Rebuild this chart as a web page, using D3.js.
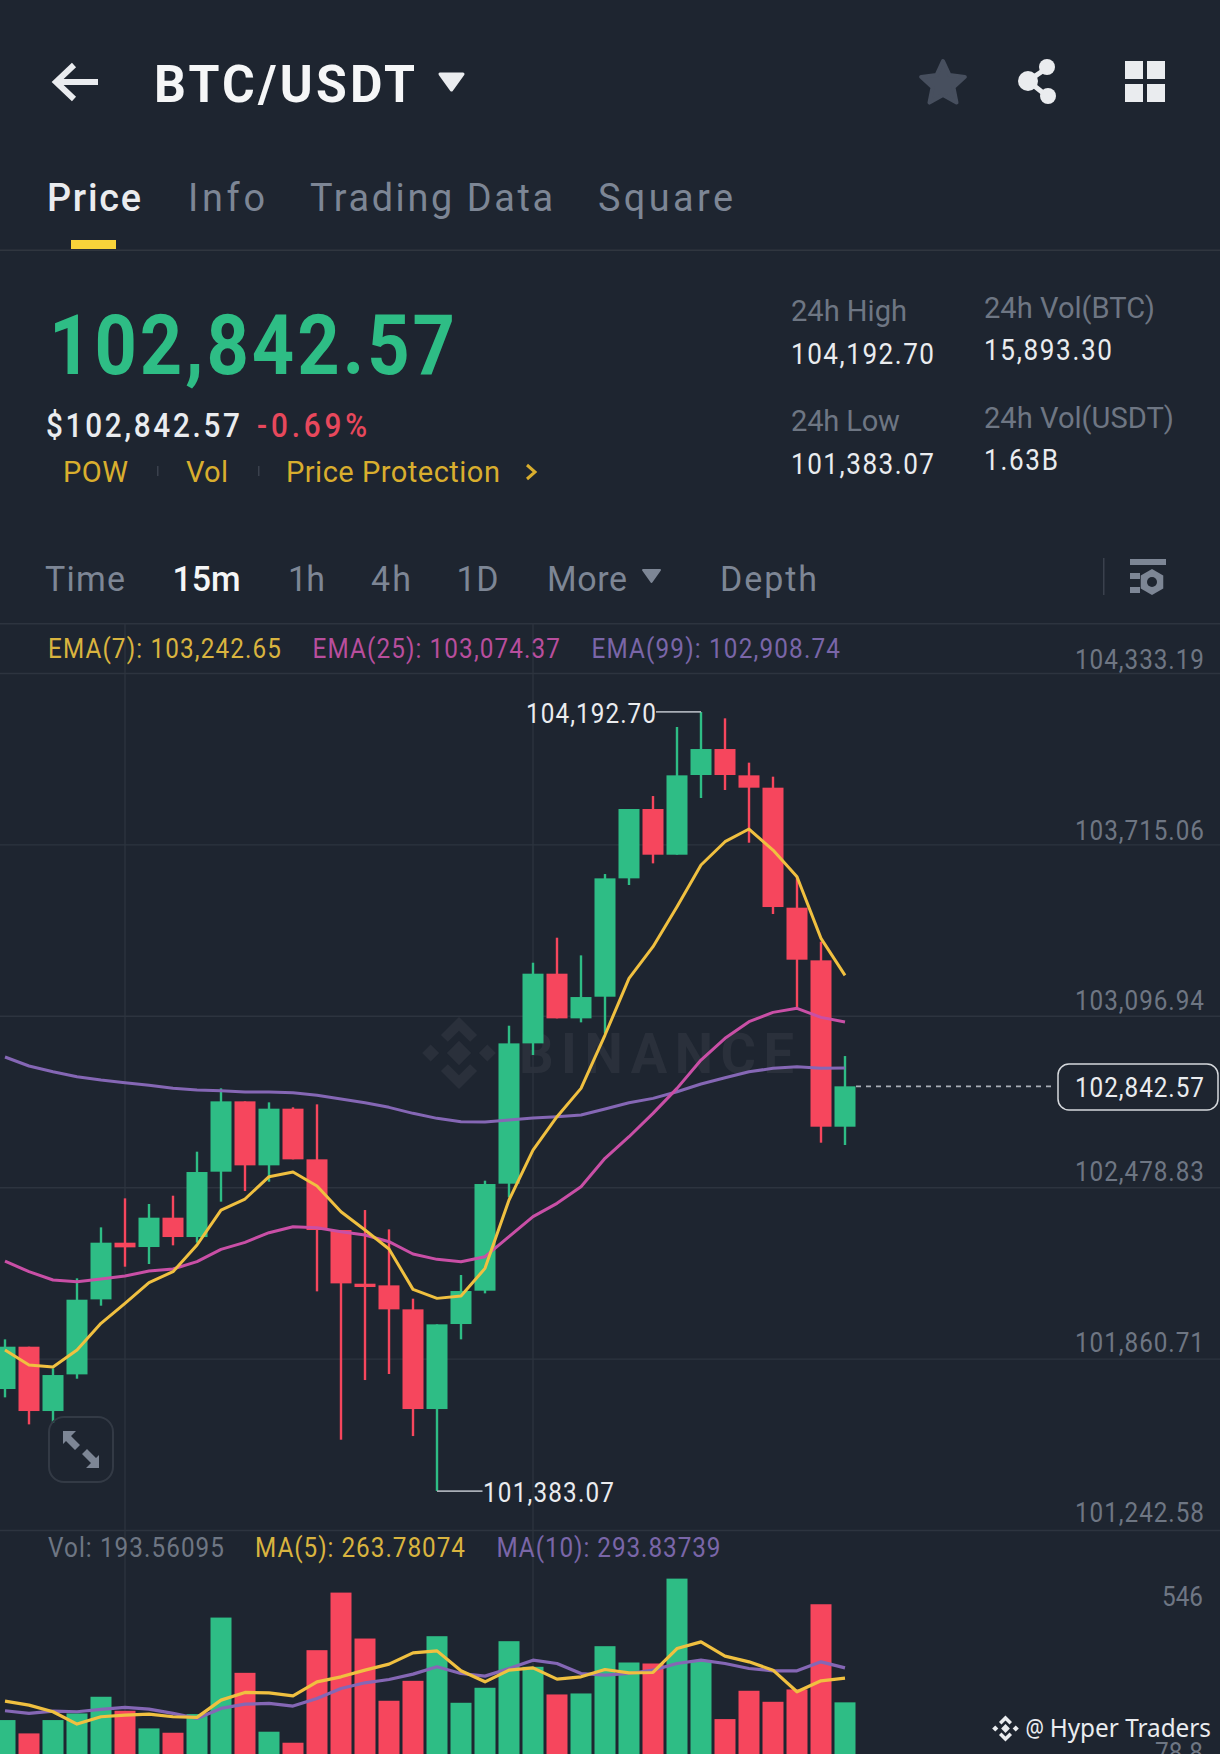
<!DOCTYPE html>
<html><head><meta charset="utf-8">
<style>html,body{margin:0;padding:0;background:#1e2530;overflow:hidden}svg{display:block}text{font-family:Roboto,"Noto Sans",sans-serif}</style>
<script src="https://d3js.org/d3.v7.min.js"></script></head><body>
<svg id="c" width="1220" height="1754"></svg>
<script>
// ---- data ----
const opens  = [101751.0,101903.6,101671.6,101803.8,102074.3,102278.7,102263.1,102368.9,102299.1,102534.8,102788.4,102557.6,102762.0,102579.3,102324.4,102130.8,102124.8,102038.3,101678.8,101985.4,102105.6,102491.5,102997.5,103248.8,103087.7,103165.8,103592.6,103842.7,103677.9,103965.3,104059.0,103964.1,103919.6,103486.8,103296.9,102697.0];
const highs  = [101930.1,101903.6,101825.5,102150.1,102334.0,102438.6,102418.2,102448.2,102606.9,102835.3,102788.4,102784.8,102766.8,102777.6,102324.4,102396.5,102326.8,102076.8,101984.2,102162.1,102502.3,103061.2,103288.4,103378.6,103314.9,103608.2,103842.7,103889.5,104138.4,104192.70,104169.7,104009.8,103959.3,103598.6,103364.2,102951.8];
const lows   = [101720.9,101623.5,101629.5,101788.2,102051.5,102192.2,102201.8,102269.1,102278.7,102426.6,102465.0,102498.7,102579.3,102103.2,101568.2,101783.4,101805.1,101581.4,101383.07,101930.1,102096.0,102442.2,102955.5,103087.7,103073.3,103033.6,103568.6,103646.7,103677.9,103882.3,103911.2,103721.2,103464.0,103123.8,102639.3,102630.9];
const closes = [101903.6,101671.6,101801.4,102073.1,102278.7,102261.9,102368.9,102299.1,102533.6,102788.4,102557.6,102762.0,102579.3,102324.4,102132.0,102118.8,102038.3,101678.8,101984.2,102104.4,102490.3,102997.5,103248.8,103087.7,103164.6,103592.6,103842.7,103677.9,103964.1,104059.0,103965.3,103919.6,103489.2,103299.3,102697.0,102842.57];
const ema7   = [101891.6,101837.5,101830.3,101891.6,101987.8,102059.9,102134.4,102174.1,102270.3,102396.5,102436.2,102516.7,102533.6,102483.1,102390.5,102324.4,102255.9,102110.4,102077.9,102086.4,102186.1,102432.6,102612.8,102733.1,102835.2,103027.6,103232.0,103346.2,103490.4,103640.7,103724.8,103770.5,103694.8,103598.6,103376.2,103242.65];
const ema25  = [102212.6,102174.1,102144.1,102138.1,102147.7,102158.5,102176.5,102183.7,102210.2,102254.7,102279.9,102314.8,102336.4,102332.8,102318.4,102306.4,102282.3,102237.8,102218.6,102210.2,102228.2,102300.3,102372.5,102420.6,102480.7,102582.9,102660.9,102745.1,102835.2,102937.4,103015.6,103075.6,103109.3,103123.8,103091.3,103074.37];
const ema99  = [102948.3,102915.9,102895.4,102877.4,102865.4,102855.8,102846.1,102835.3,102829.3,102826.9,102822.1,102822.1,102819.7,102810.1,102796.8,102783.6,102766.8,102745.2,102727.1,102715.1,102713.9,102721.1,102728.3,102733.1,102739.1,102760.8,102783.5,102799.2,102823.2,102850.9,102873.7,102895.3,102907.4,102913.4,102907.4,102908.74];
const volumes= [142.1,103.4,142.1,161.4,209.8,169.1,117.9,105.3,159.5,439.8,279.3,108.3,76.3,345.1,512.3,378.9,198.2,256.1,385.7,192.3,235.9,371.2,296.8,216.5,219.4,356.7,309.3,306.4,552.9,316.1,145.0,227.2,195.2,231.0,478.5,193.56];
const ma5    = [197.2,185.6,166.2,130.5,151.7,156.6,159.5,151.7,149.8,200.1,222.3,221.3,212.6,253.2,267.7,287.1,304.5,337.4,343.1,285.2,253.2,287.1,293.8,261.0,267.7,289.0,279.3,280.3,349.9,369.3,327.7,311.2,287.1,224.2,256.1,263.78];
const ma10   = [169.1,161.4,168.2,166.2,173.0,178.8,174.0,161.4,146.9,175.9,188.5,190.4,182.7,204.9,233.9,250.3,260.0,275.5,296.8,277.4,269.7,291.9,316.1,306.4,277.4,272.6,277.4,287.1,306.4,316.1,306.4,291.9,285.2,285.2,311.2,293.84];
const priceTicks = [104333.19,103715.06,103096.94,102478.83,101860.71,101242.58];
const volTicks = [546,78.8];
const gridCandles = [5,22];
const lastPrice = 102842.57, dayHigh = 104192.70, dayLow = 101383.07;
const highIndex = 29, lowIndex = 18;

// ---- colours ----
const GREEN="#2ebd85",RED="#f6465d",YEL="#f0c040",PINK="#c94fa6",PUR="#8567b5",GRID="#2d343f",AXIS="#6e7683",WHITE="#eaecef",GOLD="#d9ae2e",MUTE="#7d8695";

const svg=d3.select("#c");
svg.append("rect").attr("width",1220).attr("height",1754).attr("fill","#1e2530");
const idx=d3.range(opens.length);
const x=d3.scaleLinear().domain([0,35]).range([5,845]);
const y=d3.scaleLinear().domain([priceTicks[0],priceTicks[5]]).range([673,1530]);
const yv=d3.scaleLinear().domain([0,546]).range([1769,1581]);
const fmt=d3.format(",.2f");
const bw=21;
const NUM=.9, WORD=.97;
const tickShift=[-4.8,-4.6,-6.4,-6.2,-7.2,-9];

// narrow the glyphs horizontally, then space them to the measured width (the source font is a DIN-like face)
function T(s,xp,base,w,size,fill,weight,sx){
  sx=sx||WORD;
  return svg.append("text").attr("transform",`translate(${xp},${base}) scale(${sx},1)`)
    .attr("font-size",size).attr("fill",fill).attr("font-weight",weight||400)
    .attr("textLength",w/sx).attr("lengthAdjust","spacing").text(s);
}
function logo(cx,cy,s,fill){
  const r=s;
  const grp=svg.append("g").attr("fill",fill);
  [[0,0,.2],[-.66,0,.14],[.66,0,.14]].forEach(p=>grp.append("rect").attr("x",-r*p[2]).attr("y",-r*p[2]).attr("width",2*r*p[2]).attr("height",2*r*p[2]).attr("transform",`translate(${cx+p[0]*r},${cy+p[1]*r}) rotate(45)`));
  grp.append("path").attr("d",`M${cx-.42*r},${cy-.42*r}L${cx},${cy-.84*r}L${cx+.42*r},${cy-.42*r}L${cx+.26*r},${cy-.26*r}L${cx},${cy-.52*r}L${cx-.26*r},${cy-.26*r}Z`);
  grp.append("path").attr("d",`M${cx-.42*r},${cy+.42*r}L${cx},${cy+.84*r}L${cx+.42*r},${cy+.42*r}L${cx+.26*r},${cy+.26*r}L${cx},${cy+.52*r}L${cx-.26*r},${cy+.26*r}Z`);
}

// ---- header ----
svg.append("path").attr("d","M98,82H58M74,65L56,82L74,99").attr("fill","none").attr("stroke",WHITE).attr("stroke-width",6);
T("BTC/USDT",154,102,261,51,"#f5f6f7",700,.98);
svg.append("path").attr("d","M440,74H463L451.5,90Z").attr("fill",WHITE).attr("stroke",WHITE).attr("stroke-width",3).attr("stroke-linejoin","round");
const star=d3.range(10).map(i=>{const a=-Math.PI/2+i*Math.PI/5,r=i%2?11:23;return [943+r*Math.cos(a),84+r*Math.sin(a)]});
svg.append("polygon").attr("points",star.join(" ")).attr("fill","#474f5e").attr("stroke","#474f5e").attr("stroke-width",4).attr("stroke-linejoin","round");
svg.append("path").attr("d","M1047,68L1028,81L1047,96").attr("fill","none").attr("stroke",WHITE).attr("stroke-width",5);
[[1047,67,8],[1028,81,10],[1048,96,8]].forEach(c=>svg.append("circle").attr("cx",c[0]).attr("cy",c[1]).attr("r",c[2]).attr("fill",WHITE));
[[1125,61],[1147,61],[1125,84],[1147,84]].forEach(p=>svg.append("rect").attr("x",p[0]).attr("y",p[1]).attr("width",18).attr("height",18).attr("fill",WHITE));

// tabs
T("Price",47,211,94,39,WHITE,500);
T("Info",188,211,77,39,MUTE);
T("Trading Data",310,211,243,39,MUTE);
T("Square",598,211,135,39,MUTE);
svg.append("rect").attr("x",71).attr("y",240).attr("width",45).attr("height",9).attr("fill","#f8d33a");
svg.append("rect").attr("x",0).attr("y",249.5).attr("width",1220).attr("height",1.5).attr("fill","#30363f");

// price block
T(fmt(lastPrice),49,373.5,406,84,GREEN,700,.88);
T("$"+fmt(lastPrice),46,437,194,33,WHITE,500,NUM);
T("-0.69%",257,437,110,33,"#e8485c",500,NUM);
T("POW",63,482,65,30,GOLD);
T("Vol",186,482,42,30,GOLD);
T("Price Protection",286,482,214,30,GOLD);
svg.append("path").attr("d","M527,465L535,472L527,479").attr("fill","none").attr("stroke",GOLD).attr("stroke-width",3);
[157,258].forEach(a=>svg.append("rect").attr("x",a).attr("y",466).attr("width",1.5).attr("height",10).attr("fill","#3a414d"));
T("24h High",791,321,116,30,AXIS);
T(fmt(dayHigh),791,364,143,29,WHITE,400,NUM);
T("24h Low",791,431,109,30,AXIS);
T(fmt(dayLow),791,473.5,143,29,WHITE,400,NUM);
T("24h Vol(BTC)",984,318,171,30,AXIS);
T("15,893.30",984,360,128,29,WHITE,400,NUM);
T("24h Vol(USDT)",984,428,190,30,AXIS);
T("1.63B",984,470,74,29,WHITE,400,NUM);

// interval row
T("Time",45,591,80,35,MUTE);
T("15m",172.5,591,68,35,"#f5f6f7",500);
T("1h",288,591,37,35,MUTE);
T("4h",371,591,40,35,MUTE);
T("1D",456.6,591,42,35,MUTE);
T("More",547,591,80,35,MUTE);
svg.append("path").attr("d","M643,570H660L651.5,582Z").attr("fill",MUTE).attr("stroke",MUTE).attr("stroke-width",2).attr("stroke-linejoin","round");
T("Depth",720,591,97,35,MUTE);
svg.append("rect").attr("x",1103).attr("y",558).attr("width",1.5).attr("height",37).attr("fill","#3a414d");
svg.append("rect").attr("x",1130).attr("y",559).attr("width",36).attr("height",6).attr("fill",MUTE);
[[1130,573],[1130,587]].forEach(p=>svg.append("rect").attr("x",p[0]).attr("y",p[1]).attr("width",10).attr("height",6).attr("fill",MUTE));
svg.append("path").attr("d",d3.range(6).map((i)=>{const a=Math.PI/6+i*Math.PI/3;return (i?"L":"M")+(1152+13*Math.cos(a))+","+(582+13*Math.sin(a))}).join("")+"Z").attr("fill",MUTE);
svg.append("circle").attr("cx",1152).attr("cy",582).attr("r",5).attr("fill","#1e2530");

// separators
svg.append("rect").attr("x",0).attr("y",623).attr("width",1220).attr("height",1.5).attr("fill",GRID);

// watermark
logo(459,1053,43,"#2a303b");
T("BINANCE",519,1073,275,56,"#2a303b",700);

// grid
svg.append("g").selectAll("line.v").data(gridCandles).join("line").attr("class","v").attr("x1",d=>x(d)).attr("x2",d=>x(d)).attr("y1",623).attr("y2",1754).attr("stroke",GRID).attr("stroke-width",1.3);
const axisG=svg.append("g").call(d3.axisRight(y).tickValues(priceTicks).tickSize(1220).tickFormat(fmt));
axisG.select(".domain").remove();
axisG.selectAll(".tick line").attr("stroke",GRID).attr("stroke-width",1.4);
axisG.selectAll(".tick text").attr("x",0).attr("y",0).attr("dy",0).attr("text-anchor","start")
  .attr("transform",(d,i)=>`translate(1075,${tickShift[i]}) scale(${NUM},1)`)
  .attr("font-size",27).attr("fill",AXIS).attr("font-family","Roboto").attr("textLength",129/NUM).attr("lengthAdjust","spacing");

// legends
T("EMA(7): 103,242.65",48,657.7,233,27,"#d9b43f",400,NUM);
T("EMA(25): 103,074.37",312.6,657.7,247.4,27,"#b84e9d",400,NUM);
T("EMA(99): 102,908.74",591.5,657.7,248.5,27,"#7a66a8",400,NUM);
T("Vol: 193.56095",48,1557,176,27,AXIS,400,NUM);
T("MA(5): 263.78074",255,1557,210,27,"#d9b43f",400,NUM);
T("MA(10): 293.83739",496.5,1557,224,27,"#7a66a8",400,NUM);

// volume ticks
const va=svg.append("g").call(d3.axisRight(yv).tickValues(volTicks).tickSize(0).tickFormat(d=>d));
va.select(".domain").remove();
va.selectAll(".tick text").attr("x",0).attr("y",0).attr("dy",0).attr("text-anchor","start")
  .attr("transform",d=>d===546?`translate(1162,24) scale(${NUM},1)`:`translate(1155,20) scale(${NUM},1)`)
  .attr("font-size",27).attr("fill",AXIS).attr("font-family","Roboto").attr("textLength",d=>(d===546?41:48)/NUM).attr("lengthAdjust","spacing");

// volume bars
svg.append("g").selectAll("rect").data(idx).join("rect")
 .attr("x",i=>x(i)-bw/2).attr("width",bw).attr("y",i=>yv(volumes[i])).attr("height",i=>yv(0)-yv(volumes[i]))
 .attr("fill",i=>closes[i]>=opens[i]?GREEN:RED);

// candles
const cg=svg.append("g");
cg.selectAll("line").data(idx).join("line").attr("x1",i=>x(i)).attr("x2",i=>x(i)).attr("y1",i=>y(highs[i])).attr("y2",i=>y(lows[i])).attr("stroke-width",2.4).attr("stroke",i=>closes[i]>=opens[i]?GREEN:RED);
cg.selectAll("rect").data(idx).join("rect").attr("x",i=>x(i)-bw/2).attr("width",bw)
 .attr("y",i=>y(Math.max(opens[i],closes[i]))).attr("height",i=>Math.max(2,Math.abs(y(opens[i])-y(closes[i]))))
 .attr("fill",i=>closes[i]>=opens[i]?GREEN:RED);

// lines
function L(arr,sc,col,w){svg.append("path").attr("fill","none").attr("stroke",col).attr("stroke-width",w).attr("stroke-linejoin","round").attr("d",d3.line().x((d,i)=>x(i)).y(d=>sc(d))(arr));}
L(ema99,y,PUR,3);
L(ema25,y,PINK,3);
L(ema7,y,YEL,3);
L(ma10,yv,PUR,3.2);
L(ma5,yv,YEL,3.2);

// high / low leaders
svg.append("path").attr("d",`M${x(highIndex)},${y(dayHigh)}H656`).attr("fill","none").attr("stroke","#a9aeb6").attr("stroke-width",1.8);
T(fmt(dayHigh),526,723,130,27,WHITE,400,NUM);
svg.append("path").attr("d",`M${x(lowIndex)},${y(dayLow)}H482.5`).attr("fill","none").attr("stroke","#a9aeb6").attr("stroke-width",1.8);
T(fmt(dayLow),483,1501.7,131,27,WHITE,400,NUM);

// last price
svg.append("line").attr("x1",856).attr("x2",1056).attr("y1",y(lastPrice)).attr("y2",y(lastPrice)).attr("stroke","#a9aeb6").attr("stroke-width",1.8).attr("stroke-dasharray","5 5");
svg.append("rect").attr("x",1058).attr("y",1064).attr("width",160).attr("height",46).attr("rx",11).attr("fill","#1e2530").attr("stroke","#d5d8dc").attr("stroke-width",1.5);
T(fmt(lastPrice),1075,1097,129,27,WHITE,400,NUM);

// expand button
svg.append("rect").attr("x",49).attr("y",1417).attr("width",64).attr("height",65).attr("rx",15).attr("fill","none").attr("stroke","#333a45").attr("stroke-width",2);
svg.append("path").attr("d","M63,1431H76L71,1436L80,1445L75,1450L66,1441L63,1444Z M99,1468H86L91,1463L82,1454L87,1449L96,1458L99,1455Z").attr("fill",MUTE);

// credit
logo(1005.5,1728.5,15.5,WHITE);
svg.append("text").attr("x",1025.6).attr("y",1736.7).attr("font-size",26).attr("fill",WHITE).attr("textLength",18.5).attr("lengthAdjust","spacingAndGlyphs").style("font-family","'Noto Sans'").text("@");
svg.append("text").attr("x",1049.7).attr("y",1736.7).attr("font-size",26).attr("fill",WHITE).attr("textLength",161.3).attr("lengthAdjust","spacingAndGlyphs").style("font-family","'Noto Sans'").text("Hyper Traders");
</script></body></html>
